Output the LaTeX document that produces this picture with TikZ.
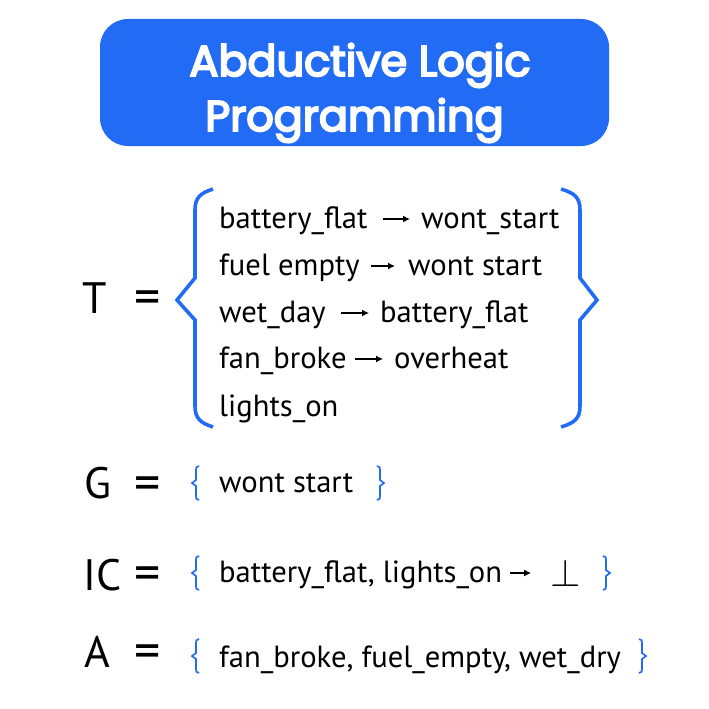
\documentclass[tikz,border=0pt]{standalone}
\usepackage{fontspec}
\setmainfont{PT Sans}
\newfontfamily\titlefont[FakeBold=4.5]{Poppins}
\usepackage{xcolor}
\usepackage{tikz}
\usetikzlibrary{positioning, calc, arrows.meta}
\definecolor{logicblue}{HTML}{226CF5}
\tikzset{
  rowtext/.style={anchor=base west, inner sep=0pt, text height=23pt, text depth=5pt, font=\fontsize{30.6}{30.6}\selectfont},
  biglabel/.style={anchor=base west, inner sep=0pt, font=\fontsize{44}{44}\selectfont},
  eqsign/.style={anchor=center, inner sep=0pt, font=\fontsize{52}{52}\selectfont},
  titleline/.style={anchor=base, inner sep=0pt, text=white, font=\titlefont\fontsize{43}{43}\selectfont},
  rulearrow/.style={-{Latex[length=7pt,width=7pt]}, line width=1.2pt, shorten <=15pt, shorten >=11pt},
  bigbrace/.style={draw=logicblue, line width=3.6pt},
  smallbrace/.style={draw=logicblue, line width=1.7pt}
}
\begin{document}
\begin{tikzpicture}[x=1pt, y=-1pt]
\useasboundingbox (0,0) rectangle (709,709);

%//title box
\node [fill=logicblue, rounded corners=28pt, minimum width=509pt, minimum height=127pt, inner sep=0pt] (titlebox) at (354.5,82.5) {};
\node [titleline] (title1) at (360,76) {Abductive Logic};
\node [titleline] (title2) at (354.5,131) {Programming};

%//theory rows
\node [rowtext] (t1a) at (219,228) {battery\_flat};
\node [rowtext] (t1b) at (421,228) {wont\_start};
\node [rowtext] (t2a) at (219,275) {fuel empty};
\node [rowtext] (t2b) at (408,275) {wont start};
\node [rowtext] (t3a) at (219,322) {wet\_day};
\node [rowtext] (t3b) at (380,322) {battery\_flat};
\node [rowtext] (t4a) at (219,368) {fan\_broke};
\node [rowtext] (t4b) at (394,368) {overheat};
\node [rowtext] (t5a) at (219,416) {lights\_on};

\foreach \x in {1,3}
\draw [rulearrow] (t\x a.east) -- (t\x b.west);
\draw [rulearrow, shorten <=11pt, shorten >=13pt] (t2a.east) -- (t2b.west);
\draw [rulearrow, shorten <=8pt] (t4a.east) -- (t4b.west);

%//left side labels
\node [biglabel] (lt) at (82,313) {T};
\node [biglabel] (lg) at (84,498) {G};
\node [biglabel] (lic) at (83,590) {IC};
\node [biglabel] (la) at (84,667) {A};

\foreach \n/\y in {t/303,g/489,ic/579,a/657}
\node [eqsign] (eq\n) at (148,\y) {=};

%//big braces
\draw [bigbrace] (213,189) .. controls (201,193) and (195,197) .. (195,210) -- (195,278) -- (177,300) -- (195,320) -- (195,406) .. controls (195,419) and (201,423) .. (213,427);
\draw [bigbrace] (561,189) .. controls (574,193) and (580,197) .. (580,210) -- (580,278) -- (597,300) -- (580,320) -- (580,406) .. controls (580,419) and (574,423) .. (561,427);

%//small braces
\foreach \xl/\xr/\y in {196/380/483, 196/606/573, 196/642/656}{
\draw [smallbrace] (\xl+3,\y-17) .. controls (\xl,\y-16) .. (\xl,\y-13) -- (\xl,\y-3) -- (\xl-4,\y) -- (\xl,\y+3) -- (\xl,\y+13) .. controls (\xl,\y+16) .. (\xl+3,\y+17);
\draw [smallbrace] (\xr-3,\y-17) .. controls (\xr,\y-16) .. (\xr,\y-13) -- (\xr,\y-3) -- (\xr+4,\y) -- (\xr,\y+3) -- (\xr,\y+13) .. controls (\xr,\y+16) .. (\xr-3,\y+17);
}

%//single rows
\node [rowtext] (goal) at (219,492) {wont start};
\node [rowtext] (ica) at (219,582) {battery\_flat, lights\_on};
\node [anchor=base, inner sep=0pt, scale=3.9] (icb) at (566,586) {$\bot$};
\draw [rulearrow, shorten <=8pt, shorten >=19pt] (ica.east) -- (ica.east -| icb.west);
\node [rowtext] (abd) at (219,667) {fan\_broke, fuel\_empty, wet\_dry};
\end{tikzpicture}
\end{document}
